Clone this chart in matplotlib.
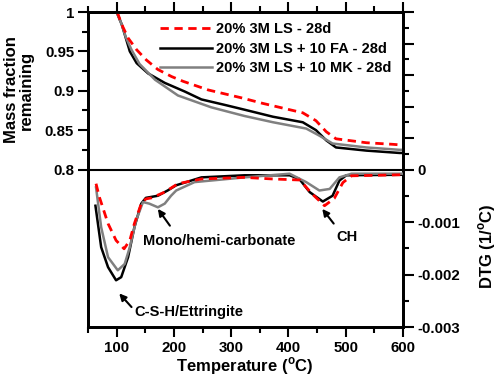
import numpy as np
import matplotlib
matplotlib.use("Agg")
import matplotlib.pyplot as plt
from matplotlib.ticker import FixedLocator, FixedFormatter

plt.rcParams['font.family'] = ['Liberation Sans', 'DejaVu Sans']
plt.rcParams['font.weight'] = 'bold'
plt.rcParams['mathtext.fontset'] = 'custom'
plt.rcParams['mathtext.rm'] = 'Liberation Sans:bold'
plt.rcParams['mathtext.bf'] = 'Liberation Sans:bold'
plt.rcParams['axes.unicode_minus'] = False

labels = ['20% 3M LS - 28d', '20% 3M LS + 10 FA - 28d', '20% 3M LS + 10 MK - 28d']
colors = ['#ff0000', '#000000', '#808080']

# TG: mass fraction remaining
tg_T_ls = [101, 109, 120, 135, 152, 172, 196, 216, 260, 318, 355, 425, 448, 466, 483,
           536, 582, 600]
tg_ls = [1.0, 0.984, 0.967, 0.952, 0.939, 0.927, 0.918, 0.912, 0.901, 0.891, 0.884,
         0.872, 0.862, 0.848, 0.839, 0.834, 0.832, 0.831]
tg_T_fa = [100, 109, 116, 123, 135, 155, 184, 219, 248, 289, 323, 373, 425, 448, 466,
           483, 536, 594, 600]
tg_fa = [1.0, 0.984, 0.967, 0.95, 0.935, 0.922, 0.91, 0.899, 0.889, 0.882, 0.876,
         0.867, 0.860, 0.850, 0.837, 0.828, 0.824, 0.821, 0.821]
tg_T_mk = [100, 109, 116, 126, 140, 167, 207, 265, 323, 373, 431, 454, 477, 536, 594, 600]
tg_mk = [1.0, 0.984, 0.968, 0.952, 0.934, 0.914, 0.894, 0.879, 0.868, 0.860, 0.852,
         0.843, 0.833, 0.828, 0.825, 0.825]

# DTG (1/oC)
dtg_T_ls = [64, 70, 85, 99, 113, 123, 131, 143, 151, 161, 184, 207, 248, 323, 372, 420,
            440, 463, 480, 495, 510, 600]
dtg_ls = [-0.00027, -0.00053, -0.00103, -0.00135, -0.00151, -0.00135, -0.00103, -0.00065,
          -0.00056, -0.00054, -0.00043, -0.00027, -0.00018, -0.00015, -0.00018, -0.0002,
          -0.00045, -0.00069, -0.00055, -0.00025, -0.00012, -0.0001]
dtg_T_fa = [63, 73, 85, 99, 108, 120, 131, 143, 151, 172, 189, 204, 248, 323, 402, 419,
            437, 460, 477, 489, 501, 594, 600]
dtg_fa = [-0.00069, -0.00148, -0.00186, -0.00211, -0.00205, -0.00167, -0.0011, -0.00065,
          -0.00054, -0.0005, -0.0004, -0.0003, -0.00015, -0.00011, -0.00011, -0.00018,
          -0.00043, -0.00061, -0.0005, -0.00021, -0.00011, -0.0001, -0.0001]
dtg_T_mk = [64, 73, 85, 102, 114, 123, 134, 146, 157, 172, 184, 195, 204, 236, 323, 402,
            431, 454, 472, 489, 510, 600]
dtg_mk = [-0.00034, -0.0011, -0.00167, -0.00192, -0.0018, -0.00148, -0.00097, -0.00062,
          -0.00065, -0.00072, -0.00065, -0.0005, -0.0004, -0.00024, -0.00015, -0.00008,
          -0.00024, -0.0004, -0.00037, -0.00015, -0.00008, -0.00008]

fig = plt.figure(figsize=(5, 3.81), dpi=100)
ax = fig.add_axes([0.176, 0.1417, 0.63, 0.8268])
ax2 = ax.twinx()

tg_sets = [(tg_T_ls, tg_ls), (tg_T_fa, tg_fa), (tg_T_mk, tg_mk)]
dtg_sets = [(dtg_T_ls, dtg_ls), (dtg_T_fa, dtg_fa), (dtg_T_mk, dtg_mk)]
handles = []
for (tx, ty), (dx, dy), c, lab in zip(tg_sets, dtg_sets, colors, labels):
    if c == '#ff0000':
        kw = dict(color=c, lw=2.0, dashes=(3, 2), zorder=4)
    else:
        kw = dict(color=c, lw=1.8, zorder=3, solid_joinstyle='round')
    h, = ax.plot(tx, ty, label=lab, **kw)
    ax2.plot(dx, dy, **kw)
    handles.append(h)

ax.axhline(0.8, color='black', lw=1.5, zorder=5)

ax.set_xlim(50, 600)
ax.set_ylim(0.6, 1.0)
ax2.set_ylim(-0.003, 0.003)

# x ticks
ax.xaxis.set_major_locator(FixedLocator([100, 200, 300, 400, 500, 600]))
ax.xaxis.set_minor_locator(FixedLocator([50, 150, 250, 350, 450, 550]))
ax.tick_params(axis='x', which='both', top=True, bottom=True, direction='out', width=1.5)
ax.tick_params(axis='x', which='major', length=7, labelsize=10.8, pad=3)
ax.tick_params(axis='x', which='minor', length=4.5)

# left y ticks only in TG part
ax.yaxis.set_major_locator(FixedLocator([0.8, 0.85, 0.9, 0.95, 1.0]))
ax.yaxis.set_major_formatter(FixedFormatter(['0.8', '0.85', '0.9', '0.95', '1']))
ax.yaxis.set_minor_locator(FixedLocator([0.825, 0.875, 0.925, 0.975]))
ax.tick_params(axis='y', which='both', direction='out', width=1.5)
ax.tick_params(axis='y', which='major', length=7, labelsize=10.8, pad=3)
ax.tick_params(axis='y', which='minor', length=4)

# right y ticks
r_major = [-0.003, -0.002, -0.001, 0.0, 0.0006, 0.0012, 0.0018, 0.0024, 0.003]
r_labels = ['-0.003', '-0.002', '-0.001', '0', '', '', '', '', '']
ax2.yaxis.set_major_locator(FixedLocator(r_major))
ax2.yaxis.set_major_formatter(FixedFormatter(r_labels))
ax2.yaxis.set_minor_locator(FixedLocator([-0.0025, -0.0015, -0.0005, 0.0003, 0.0009,
                                          0.0015, 0.0021, 0.0027]))
ax2.tick_params(axis='y', which='both', direction='out', width=1.5)
ax2.tick_params(axis='y', which='major', length=8, labelsize=10.8, pad=2)
ax2.tick_params(axis='y', which='minor', length=4.5)

for a in (ax, ax2):
    for s in a.spines.values():
        s.set_linewidth(2)

# annotations
arrow = dict(arrowstyle='-|>', color='black', lw=1.5, mutation_scale=10, shrinkA=0, shrinkB=0)
ax2.annotate('', xy=(172, -0.00075), xytext=(193, -0.00107), arrowprops=arrow)
ax2.text(146, -0.00136, 'Mono/hemi-carbonate', fontsize=10.5, ha='left', va='center')
ax2.annotate('', xy=(104.5, -0.00236), xytext=(126, -0.00262), arrowprops=arrow)
ax2.text(131, -0.00272, 'C-S-H/Ettringite', fontsize=10.5, ha='left', va='center')
ax2.annotate('', xy=(459, -0.00075), xytext=(479, -0.00103), arrowprops=arrow)
ax2.text(503, -0.00128, 'CH', fontsize=10.5, ha='center', va='center')

ax.legend(handles=handles, loc='upper left', bbox_to_anchor=(0.229, 0.968),
          frameon=False, fontsize=10.5, handlelength=3.55, handletextpad=0.25,
          labelspacing=0.38, borderpad=0, borderaxespad=0)

fig.text(245 / 500, 1 - 366 / 381, r'Temperature ($^{\mathrm{o}}$C)', fontsize=12,
         ha='center', va='center')
fig.text(19 / 500, 1 - 90 / 381, 'Mass fraction\nremaining', fontsize=12,
         rotation=90, ha='center', va='center', linespacing=1.0)
fig.text(487 / 500, 1 - 246 / 381, r'DTG (1/$^{\mathrm{o}}$C)', fontsize=12,
         rotation=90, ha='center', va='center')

fig.savefig('out.png', dpi=100)
